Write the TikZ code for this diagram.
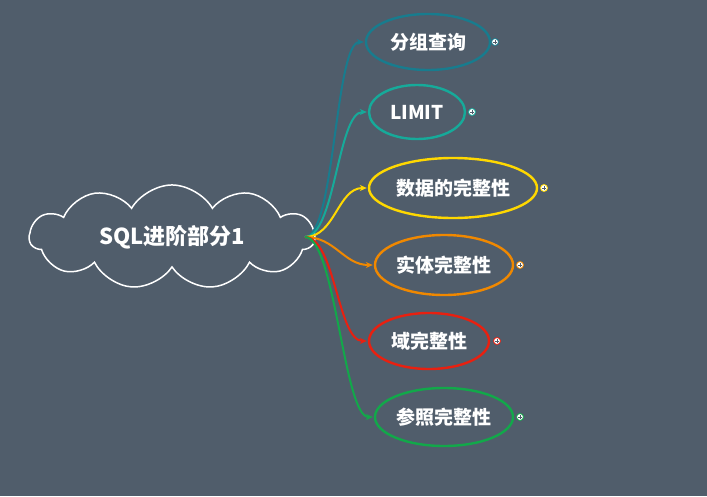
\documentclass[tikz,border=0pt]{standalone}
\usepackage{fontspec}
\setmainfont{Noto Sans CJK SC}
\usetikzlibrary{shapes.geometric,shapes.symbols,arrows.meta}
\definecolor{bg}{HTML}{505D6B}
\definecolor{c1}{HTML}{187C8E}
\definecolor{c2}{HTML}{16AA9A}
\definecolor{c3}{HTML}{FFD800}
\definecolor{c4}{HTML}{F08800}
\definecolor{c5}{HTML}{E82010}
\definecolor{c6}{HTML}{12A84A}
\tikzset{
 topic/.style={ellipse,draw=#1,line width=2.4pt,text=white,font=\bfseries\fontsize{19}{20}\selectfont,inner sep=0pt},
 plus/.style={circle,draw=#1,fill=white,line width=0.8pt,minimum size=7pt,inner sep=0pt},
 link/.style={draw=#1,line width=2pt,-{Stealth[length=7pt,width=6pt]}}
}
\begin{document}
\begin{tikzpicture}[x=1pt,y=-1pt]
\fill[bg] (0,0) rectangle (707,496);
\useasboundingbox (0,0) rectangle (707,496);
\node[cloud,cloud puffs=11,cloud puff arc=120,aspect=3,draw=white,line width=1.5pt,minimum width=285pt,minimum height=100pt,text=white,font=\bfseries\fontsize{22}{24}\selectfont] (root) at (172,237) {SQL进阶部分1};
\coordinate (hub) at (305,237);
\node[topic=c1,minimum width=124pt,minimum height=56pt] (t1) at (428,42) {分组查询};
\node[topic=c2,minimum width=96pt,minimum height=54pt] (t2) at (417,112) {LIMIT};
\node[topic=c3,minimum width=168pt,minimum height=60pt] (t3) at (453,188) {数据的完整性};
\node[topic=c4,minimum width=138pt,minimum height=60pt] (t4) at (444,265) {实体完整性};
\node[topic=c5,minimum width=120pt,minimum height=56pt] (t5) at (429,341) {域完整性};
\node[topic=c6,minimum width=138pt,minimum height=58pt] (t6) at (444,417) {参照完整性};
\foreach \i/\x/\y/\c in {1/495/42/c1,2/472/112/c2,3/544/188/c3,4/520/265/c4,5/497/341/c5,6/520/417/c6}{
 \node[plus=\c] (p\i) at (\x,\y) {};
 \draw[bg,line width=0.8pt] ([xshift=-2pt]p\i.center) -- ([xshift=2pt]p\i.center) ([yshift=-2pt]p\i.center) -- ([yshift=2pt]p\i.center);
}
\foreach \i/\c in {1/c1,2/c2,3/c3,4/c4,5/c5,6/c6}{
 \draw[link=\c] (hub) .. controls +(30,0) and ([xshift=-30pt]t\i.west) .. ([xshift=-1pt]t\i.west);
}
\end{tikzpicture}
\end{document}
